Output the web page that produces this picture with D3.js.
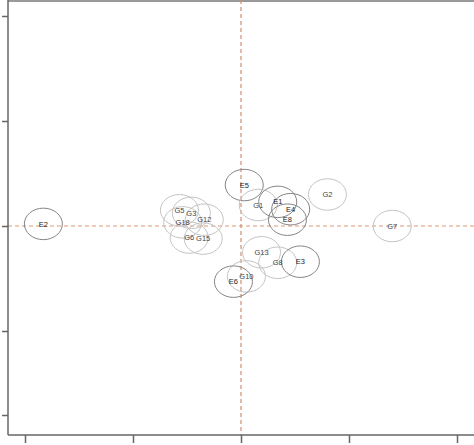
<!DOCTYPE html>
<html>
<head>
<meta charset="utf-8">
<script src="https://cdn.jsdelivr.net/npm/d3@7"></script>
<style>
  body { margin: 0; background: #fff; }
  svg { display: block; }
</style>
</head>
<body>
<svg width="474" height="445"></svg>
<script>
var svg = d3.select("svg");
var width = 474, height = 445;

// points
var names = ["E2", "E5", "G1", "E1", "E4", "E8", "G2", "G7", "G5", "G3", "G18", "G12", "G6", "G15", "G13", "G8", "E3", "G10", "E6"];
var xs = [-1.83, 0.03, 0.16, 0.34, 0.46, 0.43, 0.80, 1.40, -0.57, -0.46, -0.54, -0.34, -0.48, -0.35, 0.19, 0.34, 0.55, 0.05, -0.07];
var ys = [0.02, 0.39, 0.20, 0.23, 0.16, 0.06, 0.30, 0.00, 0.15, 0.125, 0.035, 0.06, -0.11, -0.12, -0.25, -0.35, -0.34, -0.48, -0.53];
var xTicks = [-2, -1, 0, 1, 2];
var yTicks = [2, 1, 0, -1, -1.8];

var data = names.map(function(n, i) { return {name: n, x: xs[i], y: ys[i]}; });

var x = d3.scaleLinear().domain([-2, 2]).range([25, 457]);
var y = d3.scaleLinear().domain([-2, 2]).range([436, 16]);

var left = 8, bottom = 435;

// top border
svg.append('rect').attr('x', left).attr('y', 0).attr('width', width - left).attr('height', 2).attr('fill', '#9a9a9a');

// dashed reference lines
svg.append('line').attr('x1', left).attr('x2', width).attr('y1', y(0)).attr('y2', y(0))
  .attr('stroke', '#dc9a78').attr('stroke-width', 1.2).attr('stroke-dasharray', '4,3');
svg.append('line').attr('x1', x(0)).attr('x2', x(0)).attr('y1', 0).attr('y2', bottom)
  .attr('stroke', '#cf9070').attr('stroke-width', 1.2).attr('stroke-dasharray', '4,3');

var rx = x(0.176) - x(0);
var ry = y(0) - y(0.15);

var g = svg.append('g');
g.selectAll('ellipse').data(data).enter().append('ellipse')
  .attr('cx', d => x(d.x))
  .attr('cy', d => y(d.y))
  .attr('rx', rx)
  .attr('ry', ry)
  .attr('fill', 'none')
  .attr('stroke', d => d.name[0] == 'E' ? '#858585' : '#c4c4c4')
  .attr('stroke-width', 1);

g.selectAll('text').data(data).enter().append('text')
  .attr('x', d => x(d.x))
  .attr('y', d => y(d.y))
  .attr('dy', '0.35em')
  .attr('text-anchor', 'middle')
  .attr('font-family', 'Liberation Sans, Arial, sans-serif')
  .attr('font-size', 7.5)
  .attr('fill', d => d.name[0] == 'E' ? '#222' : '#444')
  .text(d => d.name);

// axes
var xAxis = d3.axisBottom(x).tickValues(xTicks).tickSize(8).tickFormat('');
var yAxis = d3.axisLeft(y).tickValues(yTicks).tickSize(6).tickFormat('');

var xa = svg.append('g').attr('transform', 'translate(0,' + bottom + ')').call(xAxis);
xa.select('.domain').remove();
xa.append('line').attr('x1', left).attr('x2', width).attr('y1', 0).attr('y2', 0);
var ya = svg.append('g').attr('transform', 'translate(' + left + ',0)').call(yAxis);
ya.select('.domain').remove();
ya.append('line').attr('x1', 0).attr('x2', 0).attr('y1', 0).attr('y2', bottom);

xa.selectAll('line').attr('stroke', '#666').attr('stroke-width', 1.5);
ya.selectAll('line').attr('stroke', '#666').attr('stroke-width', 1.5);
</script>
</body>
</html>
